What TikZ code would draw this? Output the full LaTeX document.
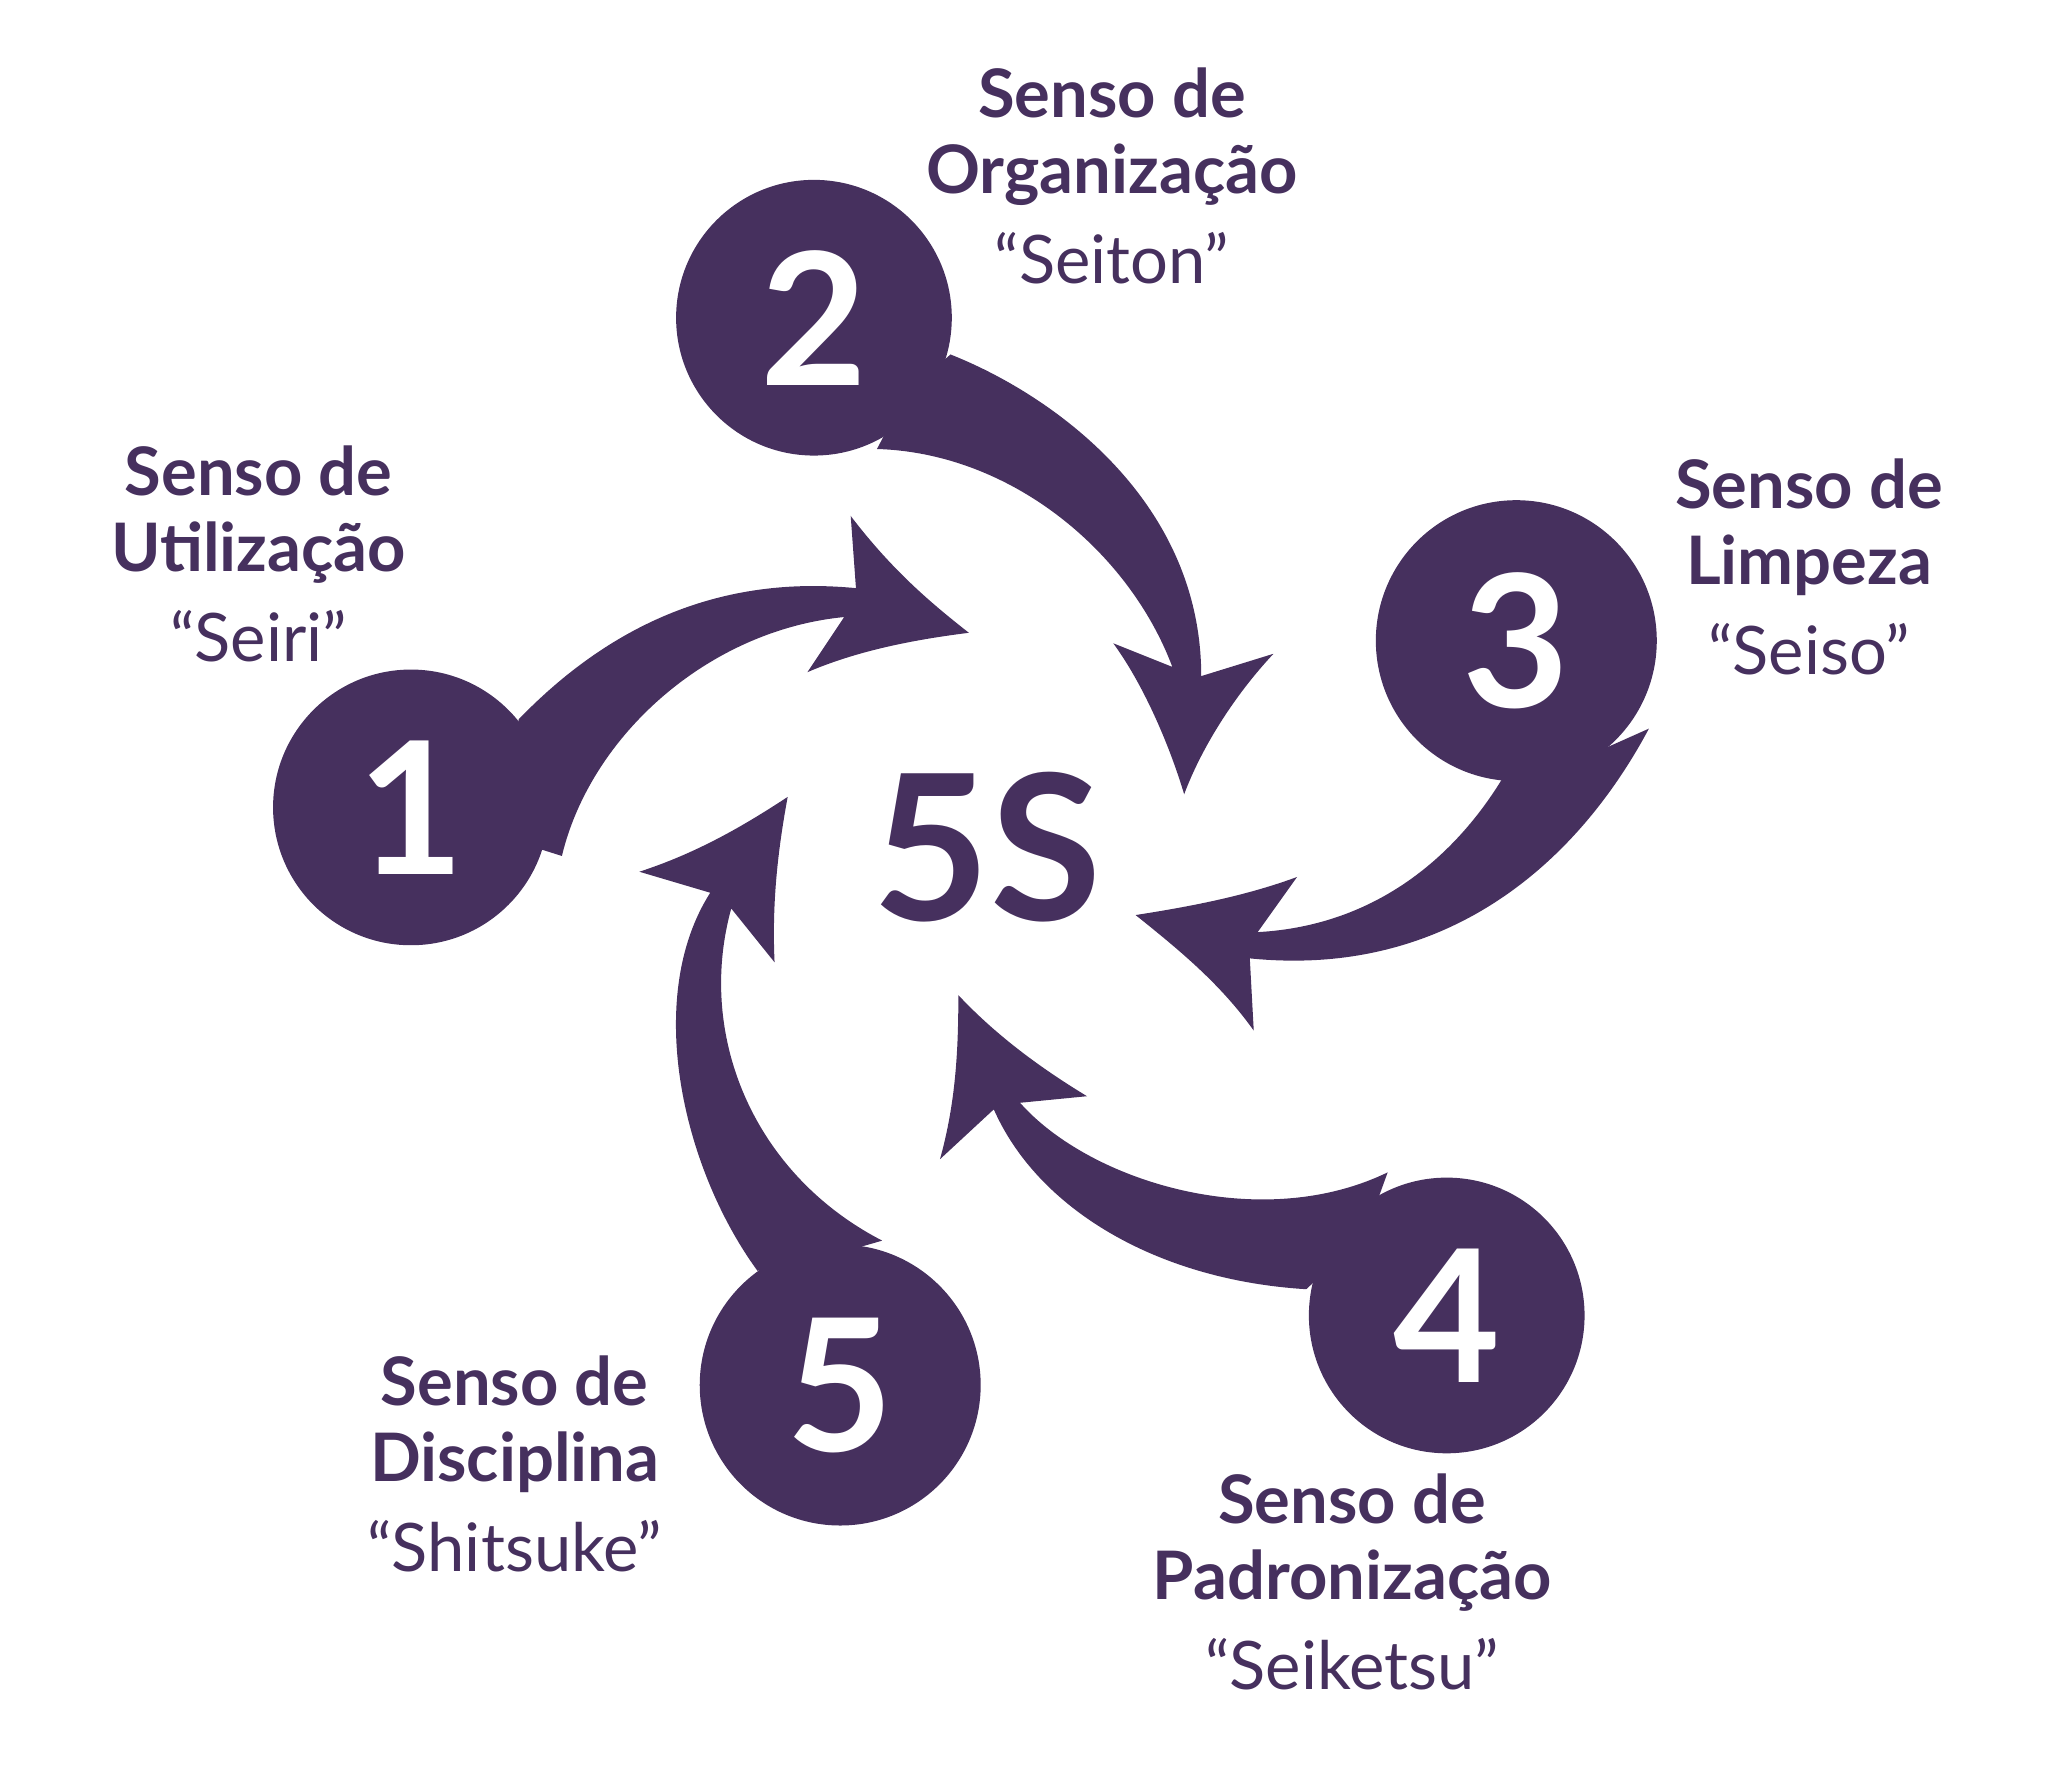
\documentclass[tikz,border=0pt]{standalone}
\usepackage{fontspec}
\setmainfont{Lato}
\usepackage{tikz}
\usetikzlibrary{positioning}
\definecolor{roxo}{HTML}{46305E}

\begin{document}
\begin{tikzpicture}[x=0.02cm, y=-0.02cm,
	bola/.style={circle, fill=roxo, text=white, font=\fontsize{80}{80}\selectfont\bfseries, inner sep=0pt},
	seta/.style={fill=roxo, draw=none},
	rotulo/.style={align=center, text=roxo, font=\fontsize{29}{33}\selectfont}]
	\useasboundingbox (0,0) rectangle (1560,1350);
	% circles
	\node[bola, minimum size=210*0.02cm] (um) at (313,615) {1};
	\node[bola, minimum size=210*0.02cm] (dois) at (620,242) {2};
	\node[bola, minimum size=214*0.02cm] (tres) at (1155,488) {3};
	\node[bola, minimum size=210*0.02cm] (quatro) at (1102,1002) {4};
	\node[bola, minimum size=214*0.02cm] (cinco) at (640,1055) {5};
	\node[text=roxo, font=\fontsize{88}{88}\selectfont\bfseries] (centro) at (752,645) {5S};
	% arrows
	\fill[seta] (395,548) .. controls (480,460) and (570,440) .. (652,448) -- (648,393)
		.. controls (680,435) and (710,460) .. (738,482) .. controls (690,488) and (650,497) .. (615,512)
		-- (643,470) .. controls (540,480) and (450,560) .. (428,652) -- (390,640) -- cycle;
	\fill[seta] (724,270) .. controls (800,300) and (915,380) .. (915,515) -- (970,498)
		.. controls (940,530) and (915,570) .. (902,605) .. controls (890,565) and (870,520) .. (848,490)
		-- (893,508) .. controls (860,420) and (770,345) .. (668,342) -- (690,300) -- cycle;
	\fill[seta] (1256,555) .. controls (1200,660) and (1100,745) .. (952,730) -- (955,785)
		.. controls (930,750) and (900,725) .. (865,697) .. controls (910,690) and (950,682) .. (988,668)
		-- (958,710) .. controls (1050,705) and (1110,650) .. (1145,592) -- (1200,580) -- cycle;
	\fill[seta] (995,982) .. controls (880,975) and (790,920) .. (757,845) -- (716,883)
		.. controls (728,840) and (730,800) .. (730,758) .. controls (760,790) and (795,815) .. (828,835)
		-- (777,840) .. controls (830,900) and (960,940) .. (1057,893) -- (1040,940) -- cycle;
	\fill[seta] (577,968) .. controls (520,890) and (490,760) .. (541,680) -- (487,664)
		.. controls (530,650) and (565,630) .. (600,607) .. controls (592,650) and (588,690) .. (590,733)
		-- (557,692) .. controls (530,790) and (575,895) .. (672,945) -- (620,960) -- cycle;
	% labels
	\node[rotulo] (txtum) at (197,422) {\textbf{Senso de}\\\textbf{Utilização}\\[6pt]“Seiri”};
	\node[rotulo] (txtdois) at (847,134) {\textbf{Senso de}\\\textbf{Organização}\\[6pt]“Seiton”};
	\node[rotulo] (txttres) at (1378,432) {\textbf{Senso de}\\\textbf{Limpeza}\\[6pt]“Seiso”};
	\node[rotulo] (txtquatro) at (1030,1205) {\textbf{Senso de}\\\textbf{Padronização}\\[6pt]“Seiketsu”};
	\node[rotulo] (txtcinco) at (392,1115) {\textbf{Senso de}\\\textbf{Disciplina}\\[6pt]“Shitsuke”};
\end{tikzpicture}
\end{document}
